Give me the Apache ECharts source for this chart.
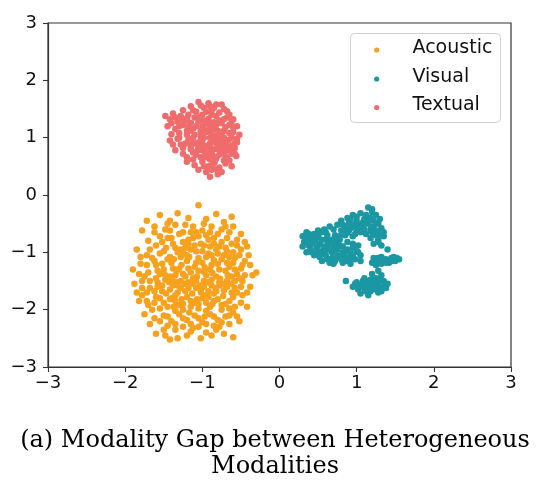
<!DOCTYPE html>
<html>
<head>
<meta charset="utf-8">
<script src="https://cdn.jsdelivr.net/npm/echarts@6/dist/echarts.min.js"></script>
<style>
html,body{margin:0;padding:0;background:#fff;}
#chart{width:538px;height:494px;}
</style>
</head>
<body>
<div id="chart"></div>
<script>
var seriesNames = ['Acoustic', 'Visual', 'Textual'];
var seriesColors = ['#F6A21E', '#1A97A3', '#F06C6C'];
var axisMin = -3, axisMax = 3, axisStep = 1;
var captionLines = ['(a) Modality Gap between Heterogeneous', 'Modalities'];

var acousticPoints = [
[-1.05,-0.18],[-1.32,-0.32],[-1.55,-0.35],[-0.82,-0.33],[-0.62,-0.38],[-1.18,-0.4],[-0.95,-0.42],[-1.42,-0.45],[-0.72,-0.47],[-1.72,-0.45],
[-1.78,-0.62],[-1.62,-0.55],[-1.48,-0.6],[-1.35,-0.52],[-1.25,-0.65],[-1.12,-0.55],[-1.0,-0.62],[-0.88,-0.55],[-0.75,-0.6],[-0.6,-0.55],[-0.5,-0.68],[-1.55,-0.72],[-1.4,-0.75],[-1.18,-0.78],[-1.05,-0.72],[-0.92,-0.78],[-0.68,-0.75],[-0.45,-0.82],[-1.7,-0.8],[-1.3,-0.68],[-0.8,-0.68],[-1.45,-0.5],[-0.98,-0.5],[-0.55,-0.78],
[-1.85,-0.95],[-1.72,-1.05],[-1.6,-0.88],[-1.5,-0.98],[-1.38,-0.85],[-1.28,-0.95],[-1.2,-1.05],[-1.1,-0.88],[-1.0,-0.98],[-0.9,-0.9],[-0.8,-1.02],[-0.7,-0.92],[-0.6,-1.0],[-0.5,-0.95],[-0.4,-1.05],[-1.65,-1.1],[-1.42,-1.08],[-1.32,-1.0],[-1.15,-0.95],[-0.95,-1.08],[-0.85,-0.85],[-0.65,-1.08],[-0.55,-0.88],[-1.55,-1.02],[-1.25,-0.82],[-0.75,-0.82],[-1.05,-1.1],[-0.42,-0.9],
[-1.9,-1.3],[-1.8,-1.2],[-1.7,-1.35],[-1.6,-1.22],[-1.5,-1.3],[-1.4,-1.18],[-1.3,-1.28],[-1.2,-1.15],[-1.1,-1.25],[-1.0,-1.18],[-0.9,-1.3],[-0.8,-1.2],[-0.7,-1.32],[-0.6,-1.18],[-0.5,-1.28],[-0.38,-1.22],[-0.3,-1.35],[-1.75,-1.42],[-1.55,-1.38],[-1.35,-1.4],[-1.15,-1.35],[-0.95,-1.4],[-0.75,-1.12],[-0.55,-1.38],[-1.45,-1.12],[-1.25,-1.38],[-1.05,-1.32],[-0.85,-1.14],[-0.65,-1.25],[-0.45,-1.15],[-1.62,-1.15],[-0.35,-1.4],
[-1.88,-1.55],[-1.78,-1.62],[-1.68,-1.5],[-1.58,-1.6],[-1.48,-1.48],[-1.38,-1.58],[-1.28,-1.5],[-1.18,-1.62],[-1.08,-1.5],[-0.98,-1.6],[-0.88,-1.48],[-0.78,-1.58],[-0.68,-1.5],[-0.58,-1.62],[-0.48,-1.5],[-0.38,-1.6],[-1.72,-1.7],[-1.52,-1.68],[-1.32,-1.7],[-1.12,-1.45],[-0.92,-1.68],[-0.72,-1.66],[-0.52,-1.45],[-1.42,-1.65],[-1.22,-1.42],[-1.02,-1.7],[-0.82,-1.42],[-0.62,-1.7],[-0.42,-1.7],[-1.6,-1.45],
[-1.82,-1.85],[-1.7,-1.92],[-1.6,-1.78],[-1.5,-1.88],[-1.4,-1.8],[-1.3,-1.92],[-1.2,-1.78],[-1.1,-1.88],[-1.0,-1.8],[-0.9,-1.95],[-0.8,-1.82],[-0.7,-1.9],[-0.6,-1.78],[-0.5,-1.88],[-0.42,-1.95],[-1.55,-1.98],[-1.25,-2.0],[-1.05,-1.98],[-0.75,-2.0],[-1.35,-1.75],[-0.95,-1.75],[-0.65,-1.98],[-1.15,-1.95],[-0.85,-1.72],
[-1.75,-2.08],[-1.62,-2.15],[-1.5,-2.1],[-1.4,-2.2],[-1.3,-2.08],[-1.2,-2.18],[-1.1,-2.1],[-1.0,-2.22],[-0.9,-2.08],[-0.8,-2.18],[-0.7,-2.12],[-0.6,-2.05],[-0.52,-2.2],[-1.45,-2.28],[-1.25,-2.3],[-1.05,-2.3],[-0.85,-2.28],[-0.65,-2.25],[-1.35,-2.02],[-0.95,-2.02],[-1.68,-2.25],
[-1.6,-2.42],[-1.42,-2.52],[-1.32,-2.5],[-1.15,-2.38],[-0.95,-2.4],[-0.82,-2.35],[-0.6,-2.48],[-1.2,-2.45],[-0.72,-2.42],[-1.5,-2.35],
[-1.47,-0.92],[-1.37,-1.12],[-1.27,-1.22],[-1.17,-1.08],[-1.07,-1.42],[-0.97,-1.26],[-0.87,-1.36],[-0.77,-1.46],[-0.67,-1.4],[-1.43,-1.52],[-1.33,-1.32],[-1.23,-1.55],[-1.13,-1.72],[-1.03,-1.58],[-0.93,-1.52],[-0.83,-1.62],[-0.73,-1.76],[-1.47,-1.72],[-1.37,-1.95],[-1.27,-1.82],[-1.17,-2.05],[-1.07,-1.82],[-0.97,-2.12],[-0.87,-1.9],[-1.52,-1.2],[-1.42,-1.42],[-1.12,-0.75],[-1.02,-0.85],[-0.92,-1.02],[-0.82,-0.95],[-0.72,-1.05],[-1.22,-0.92],[-1.32,-1.52],[-1.58,-1.32],[-0.62,-1.55],[-0.58,-1.95],[-1.62,-1.88],[-0.48,-1.75],[-1.78,-1.75],[-0.45,-1.4],
[-1.62,-0.65],[-1.52,-0.82],[-1.42,-0.62],[-1.22,-0.52],[-1.08,-0.65],[-0.9,-0.65],[-0.7,-0.55],[-0.62,-0.85],[-0.52,-1.05],[-0.48,-1.22],[-0.58,-1.3],[-0.68,-1.18],[-0.78,-1.3],[-0.88,-1.22],[-0.98,-1.34],[-1.08,-1.18],[-1.18,-1.28],[-1.28,-1.08],[-1.38,-1.28],[-1.48,-1.4],[-1.58,-1.52],[-1.68,-1.62],[-1.78,-1.5],[-1.82,-1.38],[-1.72,-1.22],[-1.8,-1.08],[-1.68,-0.95],[-1.38,-1.5],[-1.28,-1.62],[-1.18,-1.52],[-1.08,-1.62],[-0.98,-1.5],[-0.88,-1.58],[-0.78,-1.52],[-0.68,-1.6],[-0.58,-1.5],[-0.5,-1.6],[-0.55,-1.7],[-0.65,-1.85],[-0.75,-1.92],[-0.85,-1.85],[-0.95,-1.88],[-1.05,-1.9],[-1.15,-1.85],[-1.25,-1.9],[-1.35,-1.85],[-1.45,-1.95],[-1.55,-1.8],[-1.65,-2.0],[-1.55,-2.2],[-1.45,-2.12],[-1.35,-2.25],[-1.25,-2.15],[-1.15,-2.25],[-1.05,-2.15],[-0.95,-2.25],[-0.85,-2.12],[-0.75,-2.22],[-0.65,-2.1],[-0.55,-2.12],[-0.78,-2.3],[-1.12,-2.32],[-1.35,-2.35],[-0.88,-2.45],[-1.02,-2.5],[-1.48,-2.45],[-1.25,-1.0],[-1.35,-0.92],[-1.45,-0.75],[-1.15,-0.65],[-0.95,-0.7],[-0.85,-0.75],[-0.65,-0.65],[-0.98,-0.88],[-1.08,-0.98],[-1.18,-0.85],[-0.88,-1.05],[-0.78,-0.9],[-0.68,-0.98],[-0.58,-1.1],[-0.62,-1.42],[-0.72,-1.55],[-0.82,-1.68],[-0.92,-1.78],[-1.02,-1.65],[-1.12,-1.55],[-1.22,-1.68],[-1.32,-1.58],[-1.42,-1.82],[-1.52,-1.58],[-1.62,-1.68],[-1.72,-1.85],[-1.85,-1.7]
];

var visualPoints = [
[1.15,-0.22],[1.2,-0.3],[1.25,-0.35],[1.3,-0.42],[0.95,-0.35],[1.0,-0.38],[1.05,-0.32],[0.88,-0.4],[0.8,-0.45],[0.9,-0.48],[1.0,-0.45],[1.1,-0.42],[1.18,-0.4],[1.28,-0.5],[0.75,-0.52],[0.85,-0.55],[0.95,-0.55],[1.05,-0.52],[1.15,-0.5],[1.22,-0.55],[1.32,-0.58],[0.7,-0.6],[0.8,-0.62],[0.9,-0.62],[1.0,-0.62],[1.1,-0.6],[1.2,-0.65],[1.3,-0.68],[0.72,-0.7],[0.85,-0.7],[0.95,-0.72],[1.18,-0.75],[1.28,-0.78],[1.35,-0.72],[0.65,-0.55],[0.6,-0.65],[1.12,-0.68],[0.78,-0.78],[1.22,-0.85],[1.32,-0.88],[0.92,-0.42],[1.08,-0.48],[1.02,-0.58],[0.88,-0.66],
[0.3,-0.72],[0.35,-0.65],[0.4,-0.75],[0.45,-0.68],[0.5,-0.72],[0.55,-0.65],[0.6,-0.78],[0.32,-0.82],[0.38,-0.88],[0.45,-0.8],[0.52,-0.85],[0.58,-0.9],[0.65,-0.82],[0.7,-0.88],[0.75,-0.85],[0.82,-0.9],[0.4,-0.95],[0.48,-0.92],[0.55,-0.98],[0.62,-0.95],[0.68,-1.0],[0.75,-0.95],[0.82,-1.0],[0.88,-0.95],[0.95,-0.92],[0.35,-1.0],[0.45,-1.05],[0.52,-1.08],[0.6,-1.05],[0.68,-1.1],[0.75,-1.05],[0.85,-1.08],[0.92,-1.02],[1.0,-0.98],[1.05,-1.05],[0.55,-1.15],[0.65,-1.18],[0.72,-1.15],[0.82,-1.18],[0.9,-1.12],[0.98,-1.12],[1.05,-1.15],[0.42,-0.7],[0.62,-0.7],[0.72,-0.78],[0.88,-0.82],[0.95,-0.85],[1.02,-0.88],[0.58,-0.6],[0.5,-0.62],[0.78,-0.72],[0.92,-1.2],[0.3,-0.9],[0.36,-0.78],
[1.4,-0.95],[1.22,-1.1],[1.28,-1.15],[1.32,-1.08],[1.38,-1.12],[1.45,-1.1],[1.5,-1.15],[1.55,-1.12],[1.25,-1.22],[1.32,-1.2],[1.42,-1.18],[1.48,-1.08],[1.35,-1.15],[1.2,-1.18],
[0.86,-1.5],[1.28,-1.32],[1.2,-1.38],[1.32,-1.4],[1.1,-1.45],[1.18,-1.48],[1.25,-1.45],[1.35,-1.5],[1.4,-1.55],[1.0,-1.52],[1.05,-1.58],[1.12,-1.55],[1.2,-1.58],[1.28,-1.55],[1.35,-1.6],[0.95,-1.6],[1.02,-1.65],[1.1,-1.62],[1.18,-1.68],[1.25,-1.65],[1.32,-1.68],[1.05,-1.72],[1.15,-1.75],[0.98,-1.55],[1.22,-1.52],[1.3,-1.62],[1.12,-1.68],[1.08,-1.5],
[0.33,-0.75],[0.38,-0.68],[0.42,-0.85],[0.48,-0.75],[0.55,-0.78],[0.5,-0.88],[0.62,-0.88],[0.68,-0.78],[0.42,-1.0],[0.5,-1.0],[0.58,-1.02],[0.65,-0.95],[0.72,-0.95],[0.78,-1.08],[0.88,-1.15],[0.95,-1.05],[1.02,-1.0],[0.62,-1.12],[0.7,-1.2],[0.8,-1.12],[0.85,-0.98],[0.78,-0.88],[0.85,-0.62],[0.92,-0.58],[0.98,-0.68],[1.05,-0.65],[1.08,-0.55],[1.12,-0.45],[1.18,-0.6],[1.25,-0.7],[1.25,-0.62],[1.35,-0.65],[1.22,-0.45],[0.98,-0.5],[0.82,-0.52],[1.12,-0.35],[1.2,-0.25],[1.28,-0.82],[1.15,-1.5],[1.22,-1.62],[1.08,-1.6],[1.3,-1.48],[1.38,-1.62],[1.15,-1.62],[1.02,-1.58],[1.28,-1.7],[1.45,-1.15],[1.52,-1.1],[1.38,-1.18],[1.28,-1.1]
];

var textualPoints = [
[-1.05,1.62],[-0.92,1.6],[-0.82,1.58],[-1.15,1.55],[-0.98,1.52],[-0.72,1.5],[-1.25,1.48],[-0.88,1.47],[-1.08,1.45],[-0.78,1.44],
[-1.38,1.42],[-1.28,1.38],[-1.18,1.4],[-1.1,1.35],[-1.0,1.4],[-0.92,1.33],[-0.82,1.38],[-0.72,1.32],[-0.65,1.4],[-1.32,1.28],[-1.22,1.3],[-1.05,1.28],[-0.95,1.25],[-0.85,1.27],[-0.75,1.25],[-0.62,1.28],[-1.42,1.32],[-1.15,1.26],
[-1.45,1.2],[-1.35,1.15],[-1.25,1.22],[-1.15,1.12],[-1.08,1.2],[-0.98,1.15],[-0.9,1.2],[-0.8,1.12],[-0.7,1.18],[-0.6,1.1],[-0.55,1.2],[-1.3,1.08],[-1.2,1.05],[-1.02,1.08],[-0.88,1.06],[-0.75,1.05],[-0.65,1.22],[-1.4,1.06],[-0.95,1.1],[-0.82,1.22],
[-1.42,0.95],[-1.32,0.98],[-1.22,0.9],[-1.12,1.0],[-1.05,0.92],[-0.98,1.0],[-0.9,0.9],[-0.82,0.98],[-0.72,0.92],[-0.62,1.0],[-0.55,0.92],[-1.28,0.88],[-1.15,0.86],[-0.95,0.86],[-0.85,1.03],[-0.68,0.85],[-0.58,0.82],[-1.0,0.96],[-0.78,0.88],[-1.18,0.97],
[-1.35,0.78],[-1.25,0.72],[-1.15,0.8],[-1.08,0.7],[-1.0,0.78],[-0.92,0.72],[-0.85,0.8],[-0.78,0.7],[-0.7,0.78],[-0.62,0.72],[-0.56,0.68],[-1.2,0.66],[-0.95,0.66],[-0.82,0.64],[-0.68,0.65],[-1.05,0.84],[-0.88,0.76],[-0.75,0.82],
[-1.2,0.58],[-1.1,0.52],[-1.0,0.58],[-0.92,0.5],[-0.85,0.56],[-0.78,0.48],[-0.7,0.55],[-0.62,0.5],[-1.05,0.44],[-0.95,0.4],[-0.88,0.44],[-0.75,0.4],[-0.9,0.32],[-0.8,0.36],[-1.12,0.62],[-0.65,0.6],
[-1.12,1.16],[-1.02,1.02],[-0.92,1.12],[-0.86,0.94],[-0.76,1.08],[-0.66,0.96],[-1.16,0.94],[-1.06,0.78],[-0.96,0.82],[-0.8,0.8],[-0.72,1.0],[-0.9,0.62],[-0.98,1.3],[-0.88,1.4],[-1.2,1.34],[-0.7,0.68],[-0.62,0.86],[-1.3,1.2],[-0.6,0.78],[-0.84,0.58],
[-1.48,1.38],[-1.4,1.25],[-1.35,1.35],[-1.25,1.32],[-1.18,1.2],[-1.05,1.35],[-0.95,1.45],[-0.85,1.52],[-0.78,1.3],[-0.68,1.35],[-0.6,1.18],[-0.52,1.05],[-0.55,0.98],[-0.58,0.9],[-0.65,1.08],[-0.72,1.12],[-0.8,1.05],[-0.9,1.0],[-1.0,1.2],[-1.1,1.05],[-1.2,1.12],[-1.3,1.0],[-1.38,0.88],[-1.25,0.82],[-1.1,0.9],[-1.0,0.88],[-0.9,0.82],[-0.82,0.9],[-0.75,0.96],[-0.66,0.78],[-0.58,0.72],[-0.76,0.74],[-0.86,0.68],[-0.96,0.72],[-1.02,0.66],[-1.12,0.74],[-0.98,0.5],[-0.88,0.52],[-0.72,0.6],[-0.82,0.45],[-1.02,1.56],[-0.9,1.55],[-0.75,1.58],[-1.12,1.48],[-0.68,1.46],[-0.6,1.32],[-0.92,1.28],[-1.02,1.12],[-0.85,1.15],[-0.7,0.88]
];

var pointSets = [acousticPoints, visualPoints, textualPoints];

function fmtTick(v){ return String(v).replace('-', '\u2212'); }

var chart = echarts.init(document.getElementById('chart'), null, {renderer:'canvas'});

var axisCommon = {
  type: 'value', min: axisMin, max: axisMax, interval: axisStep,
  axisLine: {show: true, onZero: false, lineStyle: {color: '#333', width: 1.2}},
  axisTick: {show: true, inside: false, length: 5, lineStyle: {color: '#333', width: 1.1}},
  splitLine: {show: false},
  axisLabel: {formatter: fmtTick, color: '#111', fontSize: 18, fontFamily: 'DejaVu Sans'}
};

// legend box drawn as graphic elements (layout only; entries come from seriesNames/seriesColors)
var legendX = 350.5, legendY = 33.5, legendW = 150, legendH = 89;
var legendRowY = [50, 79, 107.5];
var legendGraphics = [
  {type: 'rect', z: 5, shape: {x: legendX, y: legendY, width: legendW, height: legendH, r: 4},
   style: {fill: '#fff', stroke: '#d0d0d0', lineWidth: 1}}
];
seriesNames.forEach(function(name, i){
  legendGraphics.push({type: 'circle', z: 6, shape: {cx: 376.7, cy: legendRowY[i], r: 2.6}, style: {fill: seriesColors[i]}});
  legendGraphics.push({type: 'text', z: 6, style: {x: 412.5, y: legendRowY[i] - 2, text: name, textAlign: 'left',
    textVerticalAlign: 'middle', fontSize: 19, fontFamily: 'DejaVu Sans', fill: '#111'}});
});

var option = {
  backgroundColor: '#fff',
  animation: false,
  grid: {left: 48, top: 23, right: 27, bottom: 127, show: true, borderColor: '#333', borderWidth: 1.2, backgroundColor: 'transparent'},
  xAxis: Object.assign({}, axisCommon, {axisLabel: Object.assign({}, axisCommon.axisLabel, {margin: 7})}),
  yAxis: Object.assign({}, axisCommon, {axisLabel: Object.assign({}, axisCommon.axisLabel, {margin: 11})}),
  legend: {show: false, data: seriesNames},
  graphic: legendGraphics.concat([
    {type: 'text', style: {x: 275, y: 441, text: captionLines[0], textAlign: 'center', textVerticalAlign: 'middle', fontSize: 24, fontFamily: 'DejaVu Serif', fill: '#000'}},
    {type: 'text', style: {x: 275, y: 467, text: captionLines[1], textAlign: 'center', textVerticalAlign: 'middle', fontSize: 24, fontFamily: 'DejaVu Serif', fill: '#000'}}
  ]),
  series: seriesNames.map(function(name, i){
    return {
      name: name, type: 'scatter', data: pointSets[i],
      symbol: 'circle', symbolSize: 6.5,
      itemStyle: {color: seriesColors[i], opacity: 1},
      emphasis: {disabled: true}
    };
  })
};
chart.setOption(option);
</script>
</body>
</html>
